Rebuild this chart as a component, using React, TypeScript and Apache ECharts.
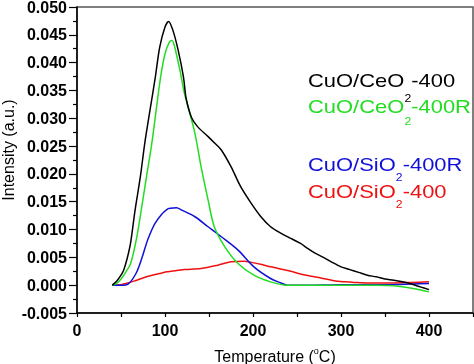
import React, { useEffect, useRef } from "react";
import * as echarts from "echarts";

const blackT = [40, 45, 50, 53, 57, 61, 66, 72, 77, 83, 89, 94, 100, 104, 109, 115, 121, 124, 130, 137, 149, 156, 164, 175, 186, 198, 209, 220, 232, 243, 254, 262, 270, 280, 290, 300, 310, 320, 330, 340, 350, 360, 370, 380, 390, 400];
const blackI = [0, 0.0007, 0.0018, 0.0027, 0.0048, 0.0077, 0.0135, 0.0195, 0.0255, 0.0315, 0.0374, 0.0428, 0.0464, 0.0474, 0.0458, 0.0422, 0.0374, 0.0336, 0.0302, 0.0285, 0.0267, 0.0256, 0.0243, 0.0213, 0.0177, 0.0147, 0.0123, 0.0105, 0.0093, 0.0084, 0.0075, 0.0066, 0.0058, 0.005, 0.0041, 0.0033, 0.0028, 0.0023, 0.0018, 0.0015, 0.0011, 0.0009, 0.0006, 0.0002, -0.0003, -0.0008];

const greenT = [40, 45, 51, 56, 61, 68, 73, 79, 85, 90, 95, 100, 105, 108, 111, 117, 122, 126, 134, 141, 149, 156, 168, 183, 201, 220, 239, 250, 300, 340, 360, 382, 400];
const greenI = [0, 0.0003, 0.0013, 0.0025, 0.0039, 0.0087, 0.0135, 0.0195, 0.0255, 0.0315, 0.0374, 0.0416, 0.0437, 0.044, 0.0428, 0.0386, 0.0345, 0.0322, 0.0273, 0.0213, 0.0153, 0.0105, 0.0069, 0.0039, 0.0018, 0.0006, 0, 0, 0, 0, -0.0001, -0.0006, -0.0012];

const blueT = [40, 50, 58, 67, 74, 80, 89, 102, 113, 119, 134, 149, 164, 183, 201, 220, 230, 239, 260, 300, 350, 380, 400];
const blueI = [0, 0, 0.0002, 0.0021, 0.005, 0.008, 0.0112, 0.0136, 0.0139, 0.0135, 0.0123, 0.0105, 0.0087, 0.0063, 0.0033, 0.0012, 0.0005, 0, 0, 0.0001, 0.0001, 0.0002, 0.0003];

const redT = [40, 50, 58, 66, 79, 94, 102, 107, 122, 141, 160, 175, 190, 198, 210, 220, 243, 254, 266, 277, 292, 305, 315, 330, 360, 380, 400];
const redI = [0, 0.0001, 0.0004, 0.0008, 0.0015, 0.0021, 0.0024, 0.0025, 0.0028, 0.003, 0.0036, 0.0042, 0.0043, 0.0041, 0.0037, 0.0033, 0.0025, 0.002, 0.0016, 0.0013, 0.0008, 0.0006, 0.0005, 0.0004, 0.0004, 0.0005, 0.0006];

const seriesNames = ["CuO/CeO2-400", "CuO/CeO2-400R", "CuO/SiO2-400R", "CuO/SiO2-400"];
const seriesColors = ["#000000", "#22dd22", "#1010d8", "#ee1111"];

const FONT = "Liberation Sans";

function pairs(t: number[], v: number[]) {
  return t.map((x, i) => [x, v[i]]);
}

function legendText(pre: string, post: string, color: string, x: number, y: number, subDrop: number) {
  const L = (subDrop + 6) * 2;
  return {
    type: "text",
    x,
    y,
    scaleX: 1.22,
    style: {
      text: `{m|${pre}}{s|2}{m|${post}}`,
      fill: color,
      verticalAlign: "middle",
      align: "left",
      rich: {
        m: { fontSize: 18, fontFamily: FONT, fill: color, lineHeight: L, verticalAlign: "middle" },
        s: { fontSize: 10, fontFamily: FONT, fill: color, lineHeight: 12, verticalAlign: "bottom" },
      },
    },
  };
}

export default function App() {
  const ref = useRef<HTMLDivElement>(null);
  useEffect(() => {
    if (!ref.current) return;
    const chart = echarts.init(ref.current, null, { renderer: "svg" });
    const datasets = [pairs(blackT, blackI), pairs(greenT, greenI), pairs(blueT, blueI), pairs(redT, redI)];
    chart.setOption({
      animation: false,
      grid: {
        left: 77,
        top: 7,
        right: 1,
        bottom: 51,
        containLabel: false,
        outerBoundsMode: "none",
        show: true,
        borderColor: "#555",
        borderWidth: 1.5,
        backgroundColor: "transparent",
      },
      xAxis: {
        type: "value",
        min: 0,
        max: 450,
        interval: 100,
        name: "Temperature ({o|o}C)",
        nameLocation: "middle",
        nameGap: 33,
        nameTextStyle: {
          fontSize: 16,
          fontFamily: FONT,
          color: "#000",
          lineHeight: 20,
          rich: { o: { fontSize: 9, fontFamily: FONT, color: "#000", lineHeight: 8, verticalAlign: "top" } },
        },
        axisLine: { show: true, onZero: false, lineStyle: { color: "#000", width: 1.5 } },
        axisTick: { show: true, inside: false, length: 4, lineStyle: { color: "#000", width: 1.2 } },
        minorTick: { show: true, splitNumber: 2, length: 4, lineStyle: { color: "#000", width: 1.2 } },
        splitLine: { show: false },
        axisLabel: { fontSize: 16, fontWeight: "bold", fontFamily: FONT, color: "#000", margin: 9, showMaxLabel: false },
      },
      yAxis: {
        type: "value",
        min: -0.005,
        max: 0.05,
        interval: 0.005,
        axisLine: { show: true, onZero: false, lineStyle: { color: "#000", width: 1.5 } },
        axisTick: { show: true, inside: false, length: 8, lineStyle: { color: "#000", width: 1.2 } },
        minorTick: { show: true, splitNumber: 2, length: 4, lineStyle: { color: "#000", width: 1.2 } },
        splitLine: { show: false },
        axisLabel: {
          fontSize: 16,
          fontWeight: "bold",
          fontFamily: FONT,
          color: "#000",
          margin: 10,
          formatter: (v: number) => v.toFixed(3),
        },
      },
      graphic: [
        {
          type: "text",
          x: 8,
          y: 150,
          rotation: Math.PI / 2,
          style: { text: "Intensity (a.u.)", fontSize: 16, fontFamily: FONT, fill: "#000", align: "center", verticalAlign: "middle" },
        },
        legendText("CuO/CeO", "-400", seriesColors[0], 308, 81, 16),
        legendText("CuO/CeO", "-400R", seriesColors[1], 308, 107, 13),
        legendText("CuO/SiO", "-400R", seriesColors[2], 308, 165, 11),
        legendText("CuO/SiO", "-400", seriesColors[3], 308, 192, 11),
      ],
      series: datasets.map((d, i) => ({
        name: seriesNames[i],
        type: "line",
        data: d,
        showSymbol: false,
        smooth: 0.3,
        lineStyle: { color: seriesColors[i], width: 1.5 },
        itemStyle: { color: seriesColors[i] },
        z: 4 - i,
      })),
    });
    return () => chart.dispose();
  }, []);
  return <div ref={ref} style={{ position: "fixed", left: 0, top: 0, width: 474, height: 364 }} />;
}
